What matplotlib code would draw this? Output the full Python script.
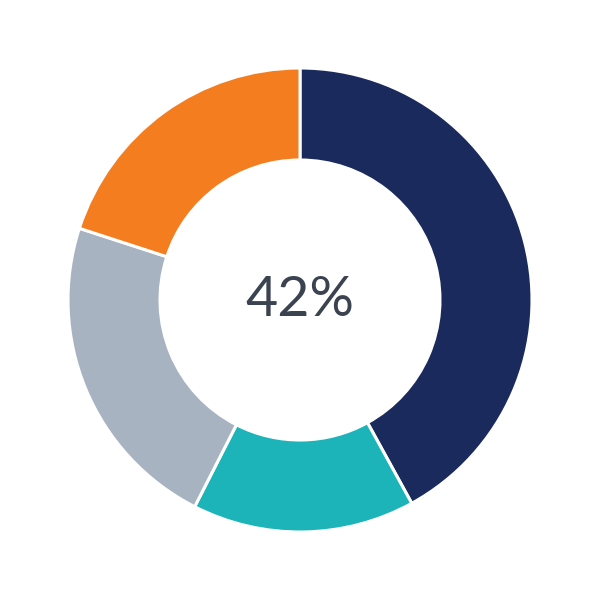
import matplotlib
matplotlib.use("Agg")
import matplotlib.pyplot as plt

labels = ["Navy", "Teal", "Gray", "Orange"]
values = [42, 15.5, 22.5, 20]
colors = ["#1b2a5c", "#1cb4b8", "#a8b3c2", "#f47d20"]
center_text = "42%"

fig = plt.figure(figsize=(6, 6), dpi=100)
ax = fig.add_axes([0, 0, 1, 1])
ax.pie(values, colors=colors, startangle=90, counterclock=False,
       radius=232, wedgeprops=dict(width=92, edgecolor="white", linewidth=2.2))
ax.text(0, 0, center_text, ha="center", va="center", fontsize=40,
        color="#3c4350", family="Lato")
ax.set_xlim(-300, 300)
ax.set_ylim(-300, 300)
ax.set_aspect("equal")
ax.axis("off")
fig.savefig("out.png", dpi=100)
